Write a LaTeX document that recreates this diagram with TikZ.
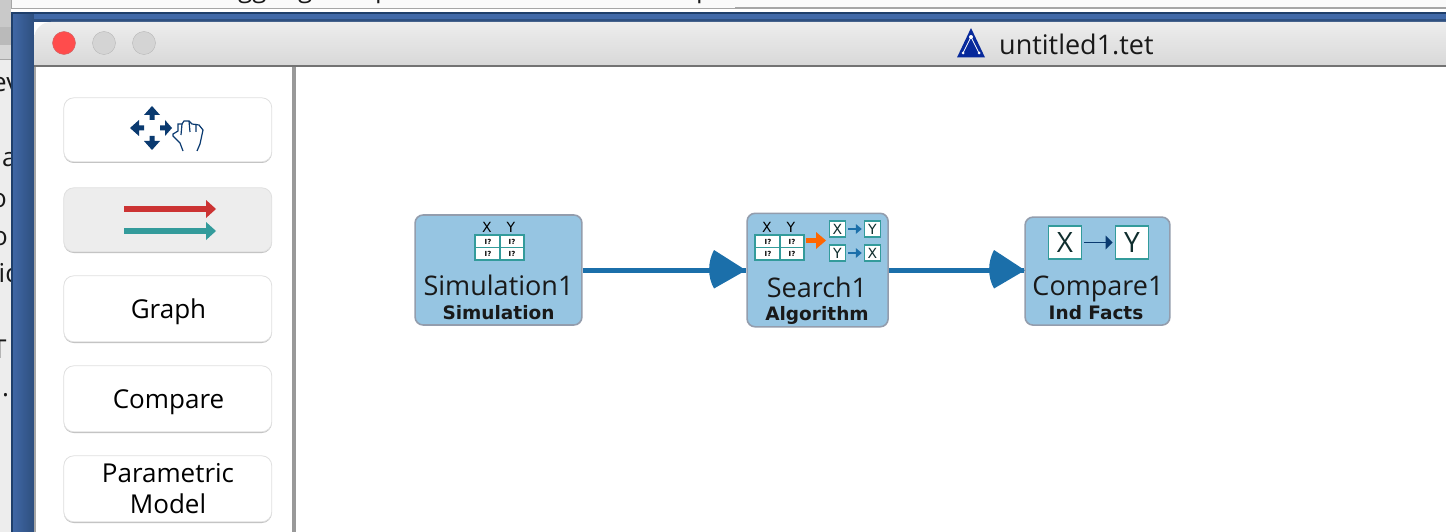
\documentclass[tikz,border=0pt]{standalone}
\usepackage{fontspec}
\setmainfont{DejaVu Sans}
\newfontfamily\uifont{Open Sans}
\usetikzlibrary{shadows,calc}
\definecolor{blockblue}{HTML}{96C5E2}
\definecolor{blockedge}{HTML}{939DAD}
\definecolor{linkblue}{HTML}{1B6FAA}
\definecolor{teal}{HTML}{339B9B}
\definecolor{navy}{HTML}{0A3A70}
\definecolor{deskblue}{HTML}{4169A8}
\definecolor{deskdark}{HTML}{2F5080}
\definecolor{deskedge}{HTML}{1F3F6B}
\definecolor{redarrow}{HTML}{CC3333}
\tikzset{
 x=1pt,y=-1pt,
 block/.style={draw=blockedge,line width=1.6pt,fill=blockblue,rounded corners=8pt,inner sep=0,anchor=north west},
 toolbtn/.style={draw=black!12,line width=.8pt,fill=white,rounded corners=10pt,inner sep=0,anchor=north west,minimum width=208pt,
   drop shadow={shadow xshift=0pt,shadow yshift=-1.2pt,fill=black!35,opacity=.7}},
 toollabel/.style={font=\fontsize{26}{31}\selectfont,align=center,text=black},
 blocktitle/.style={font=\uifont\fontsize{27}{30}\selectfont,text=black!90,inner sep=0,anchor=base},
 blocksub/.style={font=\bfseries\fontsize{18.5}{22}\selectfont,text=black!90,inner sep=0},
 vbox/.style={draw=teal,fill=white,inner sep=0,anchor=center,text=black!70!teal},
 link/.style={draw=linkblue,line width=4.8pt},
 head/.style={fill=linkblue,draw=none},
 behind/.style={font=\uifont\fontsize{26}{26}\selectfont,anchor=base west,inner sep=0,text=black!90},
}
% small data table: #1 = left, #2 = top
\newcommand{\datatable}[2]{%
 \node[font=\fontsize{14}{14}\selectfont,inner sep=0] at (#1+12,#2-8) {X};
 \node[font=\fontsize{14}{14}\selectfont,inner sep=0] at (#1+36,#2-8) {Y};
 \fill[white] (#1,#2) rectangle (#1+49,#2+25);
 \draw[teal,line width=1.5pt] (#1,#2) rectangle (#1+49,#2+25) (#1,#2+12.5) -- (#1+49,#2+12.5) (#1+25,#2) -- (#1+25,#2+25);
 \foreach \dx in {13,37} \foreach \dy in {6.5,18.5}
   \node[font=\bfseries\fontsize{7}{7}\selectfont,inner sep=0] at (#1+\dx,#2+\dy) {I?};
}
\begin{document}
\begin{tikzpicture}
\useasboundingbox (0,0) rectangle (1446,532);
\fill[white] (0,0) rectangle (1446,532);
% window behind
\fill[black!21] (0,0) rectangle (11,27);
\fill[black!27] (0,27) rectangle (11,45);
\fill[black!16] (0,45) rectangle (11,60);
\fill[black!7] (0,60) rectangle (11,532);
\fill[white!98!black] (11,0) rectangle (1446,8);
\draw[black!35,line width=1pt] (0,60) -- (11,60);
\draw[black!35,line width=1pt] (11,0) -- (11,8.5) -- (735,8.5);
\draw[black!35,line width=1.6pt] (735,8.3) -- (1446,8.3);
\node[behind] at (-8,92) {ev};
\node[behind] at (2,167) {a};
\node[behind] at (-9,207) {o};
\node[behind] at (-8,245) {o};
\node[behind] at (-1.5,282) {ic};
\node[behind] at (-8,358) {T};
\node[behind] at (2,396) {.};
\node[behind] at (238,-2) {gg};
\node[behind] at (298,-2) {g};
\node[behind] at (375,-2) {p};
\node[behind] at (696,-2) {p};
% desktop blue frame, as strips from light to dark
\fill[deskblue] (11,12) rectangle (1446,22);
\foreach \i in {0,...,22}{
 \pgfmathsetmacro{\mixv}{100-\i*100/22}
 \fill[deskblue!\mixv!deskdark] (11+\i,12) rectangle (12.2+\i,532);
}
\fill[deskdark] (34,19.5) rectangle (1446,22);
\fill[deskedge] (11,12) rectangle (1446,14.5);
\fill[deskedge] (11,12) rectangle (13,532);
% title bar
\path[top color=black!7,bottom color=black!18,rounded corners=17pt] (34,80) -- (34,22) -- (1500,22) -- (1500,80) -- cycle;
\fill[black!55] (34,65.5) rectangle (1446,67.5);
\fill[white] (34,67.5) rectangle (1446,532);
\fill[black!40] (292,67.5) rectangle (296,532);
\fill[black!35] (34,67.5) rectangle (36,532);
\filldraw[fill=red!70!white,draw=red!65!black!60] (64,43) circle (11.5);
\filldraw[fill=black!17,draw=black!28] (104,43) circle (11.5);
\filldraw[fill=black!17,draw=black!28] (144,43) circle (11.5);
% title
\fill[navy!70!blue] (957,57.5) -- (971,28) -- (985,57.5) -- cycle;
\fill[white] (971,37) circle (2) (963,53) circle (1.5) (979,53) circle (1.5);
\draw[white,line width=.8pt] (971,37) -- (963,53) (971,37) -- (979,53);
\node[font=\uifont\fontsize{27}{27}\selectfont,anchor=base west,inner sep=0,text=black!90] (title) at (999,55) {untitled1.tet};
% toolbar buttons
\node[toolbtn,minimum height=64pt] (move) at (63.4,97.4) {};
\node[toolbtn,minimum height=64pt,fill=black!7] (arrows) at (63.4,187.4) {};
\node[toolbtn,minimum height=66pt] (graph) at (63.4,275.4) {};
\node[toolbtn,minimum height=66pt] (compare) at (63.4,365.4) {};
\node[toolbtn,minimum height=66pt] (param) at (63.4,455.4) {};
\node[toollabel] at (168.5,312) {\uifont Graph};
\node[toollabel] at (168.5,402) {\uifont Compare};
\node[toollabel] at (168,489) {\uifont Parametric\\\uifont Model};
% move icon
\fill[navy] (152,106) -- (160,115) -- (154.5,115) -- (154.5,120) -- (149.5,120) -- (149.5,115) -- (144,115) -- cycle;
\fill[navy] (152,150) -- (160,141) -- (154.5,141) -- (154.5,136) -- (149.5,136) -- (149.5,141) -- (144,141) -- cycle;
\fill[navy] (130,128) -- (139,120) -- (139,125.5) -- (144,125.5) -- (144,130.5) -- (139,130.5) -- (139,136) -- cycle;
\fill[navy] (172,128) -- (165,120) -- (165,125.5) -- (160,125.5) -- (160,130.5) -- (165,130.5) -- (165,136) -- cycle;
\draw[navy,line width=1.2pt] (183,151) -- (180,143) -- (173,136) -- (173,134) -- (178,131) -- (178,124) -- (182,124) -- (184,121) -- (189,121) -- (192,124) -- (199,125) -- (203,130) -- (200,144) -- (197,151);
\draw[navy,line width=1.2pt] (182,124) -- (181,135) (189,121) -- (190,132) (196,124) -- (196,132);
% red and teal arrows
\fill[redarrow] (124,206) rectangle (208,212);
\fill[redarrow] (206,200) -- (216,209) -- (206,218) -- cycle;
\fill[teal] (124,228) rectangle (208,234);
\fill[teal] (206,222) -- (216,231) -- (206,240) -- cycle;
% blocks
\node[block,minimum width=166.8pt,minimum height=110pt] (sim) at (414.3,214.2) {};
\node[block,minimum width=141pt,minimum height=113.5pt] (search) at (746.3,212.5) {};
\node[block,minimum width=144.8pt,minimum height=108pt] (cmp) at (1024.3,216.3) {};
\node[blocktitle] at (498.5,295) {Simulation1};
\node[blocksub] at (498.5,313) {Simulation};
\node[blocktitle] at (817,297) {Search1};
\node[blocksub] at (817,315) {Algorithm};
\node[blocktitle] at (1098,295) {Compare1};
\node[blocksub] at (1096,313) {Ind Facts};
\datatable{475}{235}
\datatable{755}{235}
% orange arrow
\fill[orange!80!red] (806,238) rectangle (818,243);
\fill[orange!80!red] (816,232) -- (826,240.5) -- (816,249) -- cycle;
% small variable boxes
\node[vbox,line width=1.5pt,minimum size=16pt,font=\fontsize{14}{14}\selectfont] (sx1) at (837.5,229) {X};
\node[vbox,line width=1.5pt,minimum size=16pt,font=\fontsize{14}{14}\selectfont] (sy1) at (872.5,229) {Y};
\node[vbox,line width=1.5pt,minimum size=16pt,font=\fontsize{14}{14}\selectfont] (sy2) at (837.5,253) {Y};
\node[vbox,line width=1.5pt,minimum size=16pt,font=\fontsize{14}{14}\selectfont] (sx2) at (872.5,253) {X};
\foreach \s/\t in {sx1/sy1,sy2/sx2}{
 \draw[linkblue,line width=1.6pt] ($(\s.east)+(2,0)$) -- ($(\t.west)+(-7,0)$);
 \fill[linkblue] ($(\t.west)+(-8,-5)$) -- ($(\t.west)+(-2,0)$) -- ($(\t.west)+(-8,5)$) -- cycle;
}
\node[vbox,line width=1.8pt,minimum size=33pt,font=\uifont\fontsize{28}{28}\selectfont] (cx) at (1065,242.5) {X};
\node[vbox,line width=1.8pt,minimum size=33pt,font=\uifont\fontsize{28}{28}\selectfont] (cy) at (1132,242.5) {Y};
\draw[navy,line width=1.6pt] ($(cx.east)+(2,0)$) -- ($(cy.west)+(-6,0)$);
\fill[navy] ($(cy.west)+(-9,-7)$) -- ($(cy.west)+(-2,0)$) -- ($(cy.west)+(-9,7)$) -- cycle;
% connectors
\draw[link] (sim.east |- 0,270.3) -- (search.west |- 0,270.3);
\draw[link] (search.east |- 0,270.3) -- (cmp.west |- 0,270.3);
\fill[head] (714,250) .. controls (707.5,262) and (707.5,277) .. (714,288.5) -- (746,270.3) -- cycle;
\fill[head] (994,250) .. controls (987.5,262) and (987.5,277) .. (994,288.5) -- (1025,270.3) -- cycle;
\end{tikzpicture}
\end{document}
